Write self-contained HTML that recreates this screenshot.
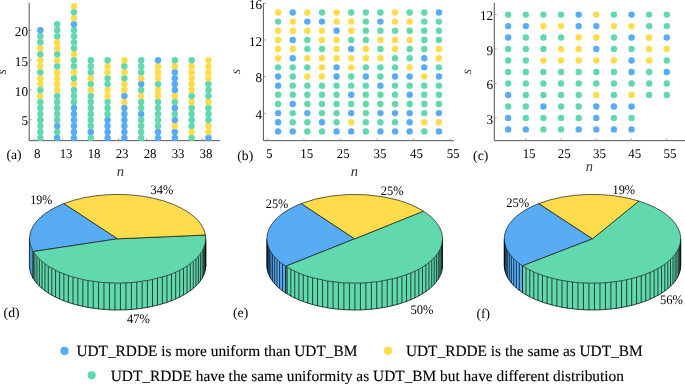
<!DOCTYPE html>
<html><head><meta charset="utf-8"><title>figure</title>
<style>html,body{margin:0;padding:0;background:#fff}svg{display:block}</style></head>
<body>
<svg width="685" height="384" viewBox="0 0 685 384" style="text-rendering:geometricPrecision">
<rect width="685" height="384" fill="#fff"/>
<path d="M29.2 2.9V140.65H219.9" fill="none" stroke="#4b4b4b" stroke-width="0.95"/>
<path d="M34.6 140.65v-2" stroke="#777" stroke-width="0.7"/>
<path d="M62.5 140.65v-2" stroke="#777" stroke-width="0.7"/>
<path d="M90.5 140.65v-2" stroke="#777" stroke-width="0.7"/>
<path d="M118.5 140.65v-2" stroke="#777" stroke-width="0.7"/>
<path d="M146.5 140.65v-2" stroke="#777" stroke-width="0.7"/>
<path d="M174.5 140.65v-2" stroke="#777" stroke-width="0.7"/>
<path d="M202.4 140.65v-2" stroke="#777" stroke-width="0.7"/>
<path d="M29.2 30.2h2.4" stroke="#777" stroke-width="0.7"/>
<path d="M29.2 60h2.4" stroke="#777" stroke-width="0.7"/>
<path d="M29.2 89.8h2.4" stroke="#777" stroke-width="0.7"/>
<path d="M29.2 119.7h2.4" stroke="#777" stroke-width="0.7"/>
<text x="37.3" y="158.0" font-size="13.4" text-anchor="middle" fill="#000" font-family="Liberation Serif, Times New Roman, serif" textLength="6.5" lengthAdjust="spacingAndGlyphs" >8</text>
<text x="66.1" y="158.0" font-size="13.4" text-anchor="middle" fill="#000" font-family="Liberation Serif, Times New Roman, serif" textLength="12.9" lengthAdjust="spacingAndGlyphs" >13</text>
<text x="94.1" y="158.0" font-size="13.4" text-anchor="middle" fill="#000" font-family="Liberation Serif, Times New Roman, serif" textLength="12.9" lengthAdjust="spacingAndGlyphs" >18</text>
<text x="122.1" y="158.0" font-size="13.4" text-anchor="middle" fill="#000" font-family="Liberation Serif, Times New Roman, serif" textLength="12.9" lengthAdjust="spacingAndGlyphs" >23</text>
<text x="150.1" y="158.0" font-size="13.4" text-anchor="middle" fill="#000" font-family="Liberation Serif, Times New Roman, serif" textLength="12.9" lengthAdjust="spacingAndGlyphs" >28</text>
<text x="178.1" y="158.0" font-size="13.4" text-anchor="middle" fill="#000" font-family="Liberation Serif, Times New Roman, serif" textLength="12.9" lengthAdjust="spacingAndGlyphs" >33</text>
<text x="206.0" y="158.0" font-size="13.4" text-anchor="middle" fill="#000" font-family="Liberation Serif, Times New Roman, serif" textLength="12.9" lengthAdjust="spacingAndGlyphs" >38</text>
<text x="28.0" y="35.9" font-size="13.4" text-anchor="end" fill="#000" font-family="Liberation Serif, Times New Roman, serif" textLength="13.2" lengthAdjust="spacingAndGlyphs" >20</text>
<text x="28.0" y="65.7" font-size="13.4" text-anchor="end" fill="#000" font-family="Liberation Serif, Times New Roman, serif" textLength="13.2" lengthAdjust="spacingAndGlyphs" >15</text>
<text x="28.0" y="95.5" font-size="13.4" text-anchor="end" fill="#000" font-family="Liberation Serif, Times New Roman, serif" textLength="13.2" lengthAdjust="spacingAndGlyphs" >10</text>
<text x="28.0" y="125.4" font-size="13.4" text-anchor="end" fill="#000" font-family="Liberation Serif, Times New Roman, serif" textLength="6.6" lengthAdjust="spacingAndGlyphs" >5</text>
<path d="M263.4 2.9V140.65H453.9" fill="none" stroke="#4b4b4b" stroke-width="0.95"/>
<path d="M267.3 140.65v-2" stroke="#777" stroke-width="0.7"/>
<path d="M303.9 140.65v-2" stroke="#777" stroke-width="0.7"/>
<path d="M340.4 140.65v-2" stroke="#777" stroke-width="0.7"/>
<path d="M377 140.65v-2" stroke="#777" stroke-width="0.7"/>
<path d="M413.5 140.65v-2" stroke="#777" stroke-width="0.7"/>
<path d="M450.2 140.65v-2" stroke="#777" stroke-width="0.7"/>
<path d="M263.4 3.3h2.4" stroke="#777" stroke-width="0.7"/>
<path d="M263.4 39.9h2.4" stroke="#777" stroke-width="0.7"/>
<path d="M263.4 76.5h2.4" stroke="#777" stroke-width="0.7"/>
<path d="M263.4 113.3h2.4" stroke="#777" stroke-width="0.7"/>
<text x="269.3" y="158.0" font-size="13.4" text-anchor="middle" fill="#000" font-family="Liberation Serif, Times New Roman, serif" textLength="6.5" lengthAdjust="spacingAndGlyphs" >5</text>
<text x="306.8" y="158.0" font-size="13.4" text-anchor="middle" fill="#000" font-family="Liberation Serif, Times New Roman, serif" textLength="12.9" lengthAdjust="spacingAndGlyphs" >15</text>
<text x="343.3" y="158.0" font-size="13.4" text-anchor="middle" fill="#000" font-family="Liberation Serif, Times New Roman, serif" textLength="12.9" lengthAdjust="spacingAndGlyphs" >25</text>
<text x="379.9" y="158.0" font-size="13.4" text-anchor="middle" fill="#000" font-family="Liberation Serif, Times New Roman, serif" textLength="12.9" lengthAdjust="spacingAndGlyphs" >35</text>
<text x="416.4" y="158.0" font-size="13.4" text-anchor="middle" fill="#000" font-family="Liberation Serif, Times New Roman, serif" textLength="12.9" lengthAdjust="spacingAndGlyphs" >45</text>
<text x="453.1" y="158.0" font-size="13.4" text-anchor="middle" fill="#000" font-family="Liberation Serif, Times New Roman, serif" textLength="12.9" lengthAdjust="spacingAndGlyphs" >55</text>
<text x="262.2" y="9.0" font-size="13.4" text-anchor="end" fill="#000" font-family="Liberation Serif, Times New Roman, serif" textLength="13.2" lengthAdjust="spacingAndGlyphs" >16</text>
<text x="262.2" y="45.6" font-size="13.4" text-anchor="end" fill="#000" font-family="Liberation Serif, Times New Roman, serif" textLength="13.2" lengthAdjust="spacingAndGlyphs" >12</text>
<text x="262.2" y="82.2" font-size="13.4" text-anchor="end" fill="#000" font-family="Liberation Serif, Times New Roman, serif" textLength="6.6" lengthAdjust="spacingAndGlyphs" >8</text>
<text x="262.2" y="119.0" font-size="13.4" text-anchor="end" fill="#000" font-family="Liberation Serif, Times New Roman, serif" textLength="6.6" lengthAdjust="spacingAndGlyphs" >4</text>
<path d="M494.3 2.9V140.65H685" fill="none" stroke="#4b4b4b" stroke-width="0.95"/>
<path d="M525.8 140.65v-2" stroke="#777" stroke-width="0.7"/>
<path d="M561 140.65v-2" stroke="#777" stroke-width="0.7"/>
<path d="M596.2 140.65v-2" stroke="#777" stroke-width="0.7"/>
<path d="M631.4 140.65v-2" stroke="#777" stroke-width="0.7"/>
<path d="M666.6 140.65v-2" stroke="#777" stroke-width="0.7"/>
<path d="M494.3 14.5h2.4" stroke="#777" stroke-width="0.7"/>
<path d="M494.3 48.9h2.4" stroke="#777" stroke-width="0.7"/>
<path d="M494.3 83.4h2.4" stroke="#777" stroke-width="0.7"/>
<path d="M494.3 117.8h2.4" stroke="#777" stroke-width="0.7"/>
<text x="529.1" y="158.0" font-size="13.4" text-anchor="middle" fill="#000" font-family="Liberation Serif, Times New Roman, serif" textLength="12.9" lengthAdjust="spacingAndGlyphs" >15</text>
<text x="564.3" y="158.0" font-size="13.4" text-anchor="middle" fill="#000" font-family="Liberation Serif, Times New Roman, serif" textLength="12.9" lengthAdjust="spacingAndGlyphs" >25</text>
<text x="599.5" y="158.0" font-size="13.4" text-anchor="middle" fill="#000" font-family="Liberation Serif, Times New Roman, serif" textLength="12.9" lengthAdjust="spacingAndGlyphs" >35</text>
<text x="634.7" y="158.0" font-size="13.4" text-anchor="middle" fill="#000" font-family="Liberation Serif, Times New Roman, serif" textLength="12.9" lengthAdjust="spacingAndGlyphs" >45</text>
<text x="669.9" y="158.0" font-size="13.4" text-anchor="middle" fill="#000" font-family="Liberation Serif, Times New Roman, serif" textLength="12.9" lengthAdjust="spacingAndGlyphs" >55</text>
<text x="493.1" y="20.2" font-size="13.4" text-anchor="end" fill="#000" font-family="Liberation Serif, Times New Roman, serif" textLength="13.2" lengthAdjust="spacingAndGlyphs" >12</text>
<text x="493.1" y="54.6" font-size="13.4" text-anchor="end" fill="#000" font-family="Liberation Serif, Times New Roman, serif" textLength="6.6" lengthAdjust="spacingAndGlyphs" >9</text>
<text x="493.1" y="89.1" font-size="13.4" text-anchor="end" fill="#000" font-family="Liberation Serif, Times New Roman, serif" textLength="6.6" lengthAdjust="spacingAndGlyphs" >6</text>
<text x="493.1" y="123.5" font-size="13.4" text-anchor="end" fill="#000" font-family="Liberation Serif, Times New Roman, serif" textLength="6.6" lengthAdjust="spacingAndGlyphs" >3</text>
<circle cx="40.35" cy="138.05" r="3.25" fill="#62D9AC"/>
<circle cx="40.35" cy="132.06" r="3.25" fill="#62D9AC"/>
<circle cx="40.35" cy="126.07" r="3.25" fill="#62D9AC"/>
<circle cx="40.35" cy="120.07" r="3.25" fill="#62D9AC"/>
<circle cx="40.35" cy="114.08" r="3.25" fill="#62D9AC"/>
<circle cx="40.35" cy="108.09" r="3.25" fill="#62D9AC"/>
<circle cx="40.35" cy="102.10" r="3.25" fill="#62D9AC"/>
<circle cx="40.35" cy="96.11" r="3.25" fill="#FFDC4B"/>
<circle cx="40.35" cy="90.11" r="3.25" fill="#62D9AC"/>
<circle cx="40.35" cy="84.12" r="3.25" fill="#FFDC4B"/>
<circle cx="40.35" cy="78.13" r="3.25" fill="#FFDC4B"/>
<circle cx="40.35" cy="72.14" r="3.25" fill="#62D9AC"/>
<circle cx="40.35" cy="66.15" r="3.25" fill="#FFDC4B"/>
<circle cx="40.35" cy="60.15" r="3.25" fill="#FFDC4B"/>
<circle cx="40.35" cy="54.16" r="3.25" fill="#62D9AC"/>
<circle cx="40.35" cy="48.17" r="3.25" fill="#FFDC4B"/>
<circle cx="40.35" cy="42.18" r="3.25" fill="#62D9AC"/>
<circle cx="40.35" cy="36.19" r="3.25" fill="#62D9AC"/>
<circle cx="40.35" cy="30.19" r="3.25" fill="#58ACF5"/>
<circle cx="57.16" cy="138.05" r="3.25" fill="#58ACF5"/>
<circle cx="57.16" cy="132.06" r="3.25" fill="#62D9AC"/>
<circle cx="57.16" cy="126.07" r="3.25" fill="#58ACF5"/>
<circle cx="57.16" cy="120.07" r="3.25" fill="#62D9AC"/>
<circle cx="57.16" cy="114.08" r="3.25" fill="#62D9AC"/>
<circle cx="57.16" cy="108.09" r="3.25" fill="#62D9AC"/>
<circle cx="57.16" cy="102.10" r="3.25" fill="#62D9AC"/>
<circle cx="57.16" cy="96.11" r="3.25" fill="#62D9AC"/>
<circle cx="57.16" cy="90.11" r="3.25" fill="#FFDC4B"/>
<circle cx="57.16" cy="84.12" r="3.25" fill="#FFDC4B"/>
<circle cx="57.16" cy="78.13" r="3.25" fill="#FFDC4B"/>
<circle cx="57.16" cy="72.14" r="3.25" fill="#FFDC4B"/>
<circle cx="57.16" cy="66.15" r="3.25" fill="#62D9AC"/>
<circle cx="57.16" cy="60.15" r="3.25" fill="#FFDC4B"/>
<circle cx="57.16" cy="54.16" r="3.25" fill="#62D9AC"/>
<circle cx="57.16" cy="48.17" r="3.25" fill="#FFDC4B"/>
<circle cx="57.16" cy="42.18" r="3.25" fill="#FFDC4B"/>
<circle cx="57.16" cy="36.19" r="3.25" fill="#62D9AC"/>
<circle cx="57.16" cy="30.19" r="3.25" fill="#62D9AC"/>
<circle cx="57.16" cy="24.20" r="3.25" fill="#62D9AC"/>
<circle cx="73.97" cy="138.05" r="3.25" fill="#58ACF5"/>
<circle cx="73.97" cy="132.06" r="3.25" fill="#58ACF5"/>
<circle cx="73.97" cy="126.07" r="3.25" fill="#58ACF5"/>
<circle cx="73.97" cy="120.07" r="3.25" fill="#58ACF5"/>
<circle cx="73.97" cy="114.08" r="3.25" fill="#58ACF5"/>
<circle cx="73.97" cy="108.09" r="3.25" fill="#58ACF5"/>
<circle cx="73.97" cy="102.10" r="3.25" fill="#62D9AC"/>
<circle cx="73.97" cy="96.11" r="3.25" fill="#62D9AC"/>
<circle cx="73.97" cy="90.11" r="3.25" fill="#62D9AC"/>
<circle cx="73.97" cy="84.12" r="3.25" fill="#FFDC4B"/>
<circle cx="73.97" cy="78.13" r="3.25" fill="#62D9AC"/>
<circle cx="73.97" cy="72.14" r="3.25" fill="#FFDC4B"/>
<circle cx="73.97" cy="66.15" r="3.25" fill="#62D9AC"/>
<circle cx="73.97" cy="60.15" r="3.25" fill="#62D9AC"/>
<circle cx="73.97" cy="54.16" r="3.25" fill="#FFDC4B"/>
<circle cx="73.97" cy="48.17" r="3.25" fill="#62D9AC"/>
<circle cx="73.97" cy="42.18" r="3.25" fill="#62D9AC"/>
<circle cx="73.97" cy="36.19" r="3.25" fill="#62D9AC"/>
<circle cx="73.97" cy="30.19" r="3.25" fill="#62D9AC"/>
<circle cx="73.97" cy="24.20" r="3.25" fill="#58ACF5"/>
<circle cx="73.97" cy="18.21" r="3.25" fill="#FFDC4B"/>
<circle cx="73.97" cy="12.22" r="3.25" fill="#62D9AC"/>
<circle cx="73.97" cy="6.23" r="3.25" fill="#FFDC4B"/>
<circle cx="90.78" cy="138.05" r="3.25" fill="#62D9AC"/>
<circle cx="90.78" cy="132.06" r="3.25" fill="#58ACF5"/>
<circle cx="90.78" cy="126.07" r="3.25" fill="#62D9AC"/>
<circle cx="90.78" cy="120.07" r="3.25" fill="#62D9AC"/>
<circle cx="90.78" cy="114.08" r="3.25" fill="#62D9AC"/>
<circle cx="90.78" cy="108.09" r="3.25" fill="#62D9AC"/>
<circle cx="90.78" cy="102.10" r="3.25" fill="#62D9AC"/>
<circle cx="90.78" cy="96.11" r="3.25" fill="#62D9AC"/>
<circle cx="90.78" cy="90.11" r="3.25" fill="#FFDC4B"/>
<circle cx="90.78" cy="84.12" r="3.25" fill="#62D9AC"/>
<circle cx="90.78" cy="78.13" r="3.25" fill="#FFDC4B"/>
<circle cx="90.78" cy="72.14" r="3.25" fill="#62D9AC"/>
<circle cx="90.78" cy="66.15" r="3.25" fill="#62D9AC"/>
<circle cx="90.78" cy="60.15" r="3.25" fill="#62D9AC"/>
<circle cx="107.59" cy="138.05" r="3.25" fill="#58ACF5"/>
<circle cx="107.59" cy="132.06" r="3.25" fill="#58ACF5"/>
<circle cx="107.59" cy="126.07" r="3.25" fill="#58ACF5"/>
<circle cx="107.59" cy="120.07" r="3.25" fill="#58ACF5"/>
<circle cx="107.59" cy="114.08" r="3.25" fill="#62D9AC"/>
<circle cx="107.59" cy="108.09" r="3.25" fill="#62D9AC"/>
<circle cx="107.59" cy="102.10" r="3.25" fill="#62D9AC"/>
<circle cx="107.59" cy="96.11" r="3.25" fill="#FFDC4B"/>
<circle cx="107.59" cy="90.11" r="3.25" fill="#FFDC4B"/>
<circle cx="107.59" cy="84.12" r="3.25" fill="#62D9AC"/>
<circle cx="107.59" cy="78.13" r="3.25" fill="#62D9AC"/>
<circle cx="107.59" cy="72.14" r="3.25" fill="#FFDC4B"/>
<circle cx="107.59" cy="66.15" r="3.25" fill="#FFDC4B"/>
<circle cx="107.59" cy="60.15" r="3.25" fill="#62D9AC"/>
<circle cx="124.40" cy="138.05" r="3.25" fill="#58ACF5"/>
<circle cx="124.40" cy="132.06" r="3.25" fill="#58ACF5"/>
<circle cx="124.40" cy="126.07" r="3.25" fill="#58ACF5"/>
<circle cx="124.40" cy="120.07" r="3.25" fill="#58ACF5"/>
<circle cx="124.40" cy="114.08" r="3.25" fill="#58ACF5"/>
<circle cx="124.40" cy="108.09" r="3.25" fill="#58ACF5"/>
<circle cx="124.40" cy="102.10" r="3.25" fill="#FFDC4B"/>
<circle cx="124.40" cy="96.11" r="3.25" fill="#58ACF5"/>
<circle cx="124.40" cy="90.11" r="3.25" fill="#FFDC4B"/>
<circle cx="124.40" cy="84.12" r="3.25" fill="#FFDC4B"/>
<circle cx="124.40" cy="78.13" r="3.25" fill="#62D9AC"/>
<circle cx="124.40" cy="72.14" r="3.25" fill="#FFDC4B"/>
<circle cx="124.40" cy="66.15" r="3.25" fill="#62D9AC"/>
<circle cx="124.40" cy="60.15" r="3.25" fill="#FFDC4B"/>
<circle cx="141.21" cy="138.05" r="3.25" fill="#62D9AC"/>
<circle cx="141.21" cy="132.06" r="3.25" fill="#62D9AC"/>
<circle cx="141.21" cy="126.07" r="3.25" fill="#62D9AC"/>
<circle cx="141.21" cy="120.07" r="3.25" fill="#62D9AC"/>
<circle cx="141.21" cy="114.08" r="3.25" fill="#58ACF5"/>
<circle cx="141.21" cy="108.09" r="3.25" fill="#62D9AC"/>
<circle cx="141.21" cy="102.10" r="3.25" fill="#62D9AC"/>
<circle cx="141.21" cy="96.11" r="3.25" fill="#FFDC4B"/>
<circle cx="141.21" cy="90.11" r="3.25" fill="#62D9AC"/>
<circle cx="141.21" cy="84.12" r="3.25" fill="#58ACF5"/>
<circle cx="141.21" cy="78.13" r="3.25" fill="#FFDC4B"/>
<circle cx="141.21" cy="72.14" r="3.25" fill="#62D9AC"/>
<circle cx="141.21" cy="66.15" r="3.25" fill="#62D9AC"/>
<circle cx="141.21" cy="60.15" r="3.25" fill="#62D9AC"/>
<circle cx="158.02" cy="138.05" r="3.25" fill="#58ACF5"/>
<circle cx="158.02" cy="132.06" r="3.25" fill="#58ACF5"/>
<circle cx="158.02" cy="126.07" r="3.25" fill="#62D9AC"/>
<circle cx="158.02" cy="120.07" r="3.25" fill="#62D9AC"/>
<circle cx="158.02" cy="114.08" r="3.25" fill="#62D9AC"/>
<circle cx="158.02" cy="108.09" r="3.25" fill="#62D9AC"/>
<circle cx="158.02" cy="102.10" r="3.25" fill="#62D9AC"/>
<circle cx="158.02" cy="96.11" r="3.25" fill="#FFDC4B"/>
<circle cx="158.02" cy="90.11" r="3.25" fill="#FFDC4B"/>
<circle cx="158.02" cy="84.12" r="3.25" fill="#62D9AC"/>
<circle cx="158.02" cy="78.13" r="3.25" fill="#FFDC4B"/>
<circle cx="158.02" cy="72.14" r="3.25" fill="#FFDC4B"/>
<circle cx="158.02" cy="66.15" r="3.25" fill="#FFDC4B"/>
<circle cx="158.02" cy="60.15" r="3.25" fill="#58ACF5"/>
<circle cx="174.83" cy="138.05" r="3.25" fill="#58ACF5"/>
<circle cx="174.83" cy="132.06" r="3.25" fill="#58ACF5"/>
<circle cx="174.83" cy="126.07" r="3.25" fill="#FFDC4B"/>
<circle cx="174.83" cy="120.07" r="3.25" fill="#58ACF5"/>
<circle cx="174.83" cy="114.08" r="3.25" fill="#62D9AC"/>
<circle cx="174.83" cy="108.09" r="3.25" fill="#58ACF5"/>
<circle cx="174.83" cy="102.10" r="3.25" fill="#62D9AC"/>
<circle cx="174.83" cy="96.11" r="3.25" fill="#FFDC4B"/>
<circle cx="174.83" cy="90.11" r="3.25" fill="#58ACF5"/>
<circle cx="174.83" cy="84.12" r="3.25" fill="#58ACF5"/>
<circle cx="174.83" cy="78.13" r="3.25" fill="#58ACF5"/>
<circle cx="174.83" cy="72.14" r="3.25" fill="#58ACF5"/>
<circle cx="174.83" cy="66.15" r="3.25" fill="#FFDC4B"/>
<circle cx="174.83" cy="60.15" r="3.25" fill="#62D9AC"/>
<circle cx="191.64" cy="138.05" r="3.25" fill="#62D9AC"/>
<circle cx="191.64" cy="132.06" r="3.25" fill="#FFDC4B"/>
<circle cx="191.64" cy="126.07" r="3.25" fill="#62D9AC"/>
<circle cx="191.64" cy="120.07" r="3.25" fill="#62D9AC"/>
<circle cx="191.64" cy="114.08" r="3.25" fill="#62D9AC"/>
<circle cx="191.64" cy="108.09" r="3.25" fill="#62D9AC"/>
<circle cx="191.64" cy="102.10" r="3.25" fill="#FFDC4B"/>
<circle cx="191.64" cy="96.11" r="3.25" fill="#62D9AC"/>
<circle cx="191.64" cy="90.11" r="3.25" fill="#FFDC4B"/>
<circle cx="191.64" cy="84.12" r="3.25" fill="#FFDC4B"/>
<circle cx="191.64" cy="78.13" r="3.25" fill="#FFDC4B"/>
<circle cx="191.64" cy="72.14" r="3.25" fill="#FFDC4B"/>
<circle cx="191.64" cy="66.15" r="3.25" fill="#FFDC4B"/>
<circle cx="191.64" cy="60.15" r="3.25" fill="#62D9AC"/>
<circle cx="208.45" cy="138.05" r="3.25" fill="#58ACF5"/>
<circle cx="208.45" cy="132.06" r="3.25" fill="#FFDC4B"/>
<circle cx="208.45" cy="126.07" r="3.25" fill="#FFDC4B"/>
<circle cx="208.45" cy="120.07" r="3.25" fill="#62D9AC"/>
<circle cx="208.45" cy="114.08" r="3.25" fill="#62D9AC"/>
<circle cx="208.45" cy="108.09" r="3.25" fill="#62D9AC"/>
<circle cx="208.45" cy="102.10" r="3.25" fill="#FFDC4B"/>
<circle cx="208.45" cy="96.11" r="3.25" fill="#62D9AC"/>
<circle cx="208.45" cy="90.11" r="3.25" fill="#62D9AC"/>
<circle cx="208.45" cy="84.12" r="3.25" fill="#62D9AC"/>
<circle cx="208.45" cy="78.13" r="3.25" fill="#FFDC4B"/>
<circle cx="208.45" cy="72.14" r="3.25" fill="#FFDC4B"/>
<circle cx="208.45" cy="66.15" r="3.25" fill="#FFDC4B"/>
<circle cx="208.45" cy="60.15" r="3.25" fill="#FFDC4B"/>
<circle cx="278.10" cy="131.40" r="3.2" fill="#58ACF5"/>
<circle cx="278.10" cy="122.25" r="3.2" fill="#58ACF5"/>
<circle cx="278.10" cy="113.10" r="3.2" fill="#58ACF5"/>
<circle cx="278.10" cy="103.95" r="3.2" fill="#62D9AC"/>
<circle cx="278.10" cy="94.80" r="3.2" fill="#62D9AC"/>
<circle cx="278.10" cy="85.65" r="3.2" fill="#58ACF5"/>
<circle cx="278.10" cy="76.50" r="3.2" fill="#58ACF5"/>
<circle cx="278.10" cy="67.35" r="3.2" fill="#62D9AC"/>
<circle cx="278.10" cy="58.20" r="3.2" fill="#FFDC4B"/>
<circle cx="278.10" cy="49.05" r="3.2" fill="#FFDC4B"/>
<circle cx="278.10" cy="39.90" r="3.2" fill="#FFDC4B"/>
<circle cx="278.10" cy="30.75" r="3.2" fill="#FFDC4B"/>
<circle cx="278.10" cy="21.60" r="3.2" fill="#62D9AC"/>
<circle cx="278.10" cy="12.45" r="3.2" fill="#FFDC4B"/>
<circle cx="292.72" cy="131.40" r="3.2" fill="#58ACF5"/>
<circle cx="292.72" cy="122.25" r="3.2" fill="#62D9AC"/>
<circle cx="292.72" cy="113.10" r="3.2" fill="#62D9AC"/>
<circle cx="292.72" cy="103.95" r="3.2" fill="#58ACF5"/>
<circle cx="292.72" cy="94.80" r="3.2" fill="#62D9AC"/>
<circle cx="292.72" cy="85.65" r="3.2" fill="#62D9AC"/>
<circle cx="292.72" cy="76.50" r="3.2" fill="#62D9AC"/>
<circle cx="292.72" cy="67.35" r="3.2" fill="#62D9AC"/>
<circle cx="292.72" cy="58.20" r="3.2" fill="#58ACF5"/>
<circle cx="292.72" cy="49.05" r="3.2" fill="#FFDC4B"/>
<circle cx="292.72" cy="39.90" r="3.2" fill="#58ACF5"/>
<circle cx="292.72" cy="30.75" r="3.2" fill="#FFDC4B"/>
<circle cx="292.72" cy="21.60" r="3.2" fill="#FFDC4B"/>
<circle cx="292.72" cy="12.45" r="3.2" fill="#58ACF5"/>
<circle cx="307.34" cy="131.40" r="3.2" fill="#62D9AC"/>
<circle cx="307.34" cy="122.25" r="3.2" fill="#62D9AC"/>
<circle cx="307.34" cy="113.10" r="3.2" fill="#58ACF5"/>
<circle cx="307.34" cy="103.95" r="3.2" fill="#62D9AC"/>
<circle cx="307.34" cy="94.80" r="3.2" fill="#62D9AC"/>
<circle cx="307.34" cy="85.65" r="3.2" fill="#62D9AC"/>
<circle cx="307.34" cy="76.50" r="3.2" fill="#FFDC4B"/>
<circle cx="307.34" cy="67.35" r="3.2" fill="#62D9AC"/>
<circle cx="307.34" cy="58.20" r="3.2" fill="#FFDC4B"/>
<circle cx="307.34" cy="49.05" r="3.2" fill="#62D9AC"/>
<circle cx="307.34" cy="39.90" r="3.2" fill="#62D9AC"/>
<circle cx="307.34" cy="30.75" r="3.2" fill="#FFDC4B"/>
<circle cx="307.34" cy="21.60" r="3.2" fill="#58ACF5"/>
<circle cx="307.34" cy="12.45" r="3.2" fill="#FFDC4B"/>
<circle cx="321.96" cy="131.40" r="3.2" fill="#62D9AC"/>
<circle cx="321.96" cy="122.25" r="3.2" fill="#58ACF5"/>
<circle cx="321.96" cy="113.10" r="3.2" fill="#62D9AC"/>
<circle cx="321.96" cy="103.95" r="3.2" fill="#62D9AC"/>
<circle cx="321.96" cy="94.80" r="3.2" fill="#62D9AC"/>
<circle cx="321.96" cy="85.65" r="3.2" fill="#62D9AC"/>
<circle cx="321.96" cy="76.50" r="3.2" fill="#FFDC4B"/>
<circle cx="321.96" cy="67.35" r="3.2" fill="#FFDC4B"/>
<circle cx="321.96" cy="58.20" r="3.2" fill="#FFDC4B"/>
<circle cx="321.96" cy="49.05" r="3.2" fill="#62D9AC"/>
<circle cx="321.96" cy="39.90" r="3.2" fill="#FFDC4B"/>
<circle cx="321.96" cy="30.75" r="3.2" fill="#FFDC4B"/>
<circle cx="321.96" cy="21.60" r="3.2" fill="#58ACF5"/>
<circle cx="321.96" cy="12.45" r="3.2" fill="#62D9AC"/>
<circle cx="336.58" cy="131.40" r="3.2" fill="#58ACF5"/>
<circle cx="336.58" cy="122.25" r="3.2" fill="#62D9AC"/>
<circle cx="336.58" cy="113.10" r="3.2" fill="#62D9AC"/>
<circle cx="336.58" cy="103.95" r="3.2" fill="#62D9AC"/>
<circle cx="336.58" cy="94.80" r="3.2" fill="#62D9AC"/>
<circle cx="336.58" cy="85.65" r="3.2" fill="#62D9AC"/>
<circle cx="336.58" cy="76.50" r="3.2" fill="#58ACF5"/>
<circle cx="336.58" cy="67.35" r="3.2" fill="#58ACF5"/>
<circle cx="336.58" cy="58.20" r="3.2" fill="#FFDC4B"/>
<circle cx="336.58" cy="49.05" r="3.2" fill="#FFDC4B"/>
<circle cx="336.58" cy="39.90" r="3.2" fill="#FFDC4B"/>
<circle cx="336.58" cy="30.75" r="3.2" fill="#58ACF5"/>
<circle cx="336.58" cy="21.60" r="3.2" fill="#FFDC4B"/>
<circle cx="336.58" cy="12.45" r="3.2" fill="#FFDC4B"/>
<circle cx="351.20" cy="131.40" r="3.2" fill="#58ACF5"/>
<circle cx="351.20" cy="122.25" r="3.2" fill="#FFDC4B"/>
<circle cx="351.20" cy="113.10" r="3.2" fill="#58ACF5"/>
<circle cx="351.20" cy="103.95" r="3.2" fill="#62D9AC"/>
<circle cx="351.20" cy="94.80" r="3.2" fill="#58ACF5"/>
<circle cx="351.20" cy="85.65" r="3.2" fill="#62D9AC"/>
<circle cx="351.20" cy="76.50" r="3.2" fill="#62D9AC"/>
<circle cx="351.20" cy="67.35" r="3.2" fill="#FFDC4B"/>
<circle cx="351.20" cy="58.20" r="3.2" fill="#FFDC4B"/>
<circle cx="351.20" cy="49.05" r="3.2" fill="#58ACF5"/>
<circle cx="351.20" cy="39.90" r="3.2" fill="#62D9AC"/>
<circle cx="351.20" cy="30.75" r="3.2" fill="#FFDC4B"/>
<circle cx="351.20" cy="21.60" r="3.2" fill="#FFDC4B"/>
<circle cx="351.20" cy="12.45" r="3.2" fill="#62D9AC"/>
<circle cx="365.82" cy="131.40" r="3.2" fill="#62D9AC"/>
<circle cx="365.82" cy="122.25" r="3.2" fill="#62D9AC"/>
<circle cx="365.82" cy="113.10" r="3.2" fill="#62D9AC"/>
<circle cx="365.82" cy="103.95" r="3.2" fill="#62D9AC"/>
<circle cx="365.82" cy="94.80" r="3.2" fill="#62D9AC"/>
<circle cx="365.82" cy="85.65" r="3.2" fill="#62D9AC"/>
<circle cx="365.82" cy="76.50" r="3.2" fill="#58ACF5"/>
<circle cx="365.82" cy="67.35" r="3.2" fill="#62D9AC"/>
<circle cx="365.82" cy="58.20" r="3.2" fill="#FFDC4B"/>
<circle cx="365.82" cy="49.05" r="3.2" fill="#FFDC4B"/>
<circle cx="365.82" cy="39.90" r="3.2" fill="#62D9AC"/>
<circle cx="365.82" cy="30.75" r="3.2" fill="#62D9AC"/>
<circle cx="365.82" cy="21.60" r="3.2" fill="#62D9AC"/>
<circle cx="365.82" cy="12.45" r="3.2" fill="#62D9AC"/>
<circle cx="380.44" cy="131.40" r="3.2" fill="#58ACF5"/>
<circle cx="380.44" cy="122.25" r="3.2" fill="#62D9AC"/>
<circle cx="380.44" cy="113.10" r="3.2" fill="#58ACF5"/>
<circle cx="380.44" cy="103.95" r="3.2" fill="#62D9AC"/>
<circle cx="380.44" cy="94.80" r="3.2" fill="#62D9AC"/>
<circle cx="380.44" cy="85.65" r="3.2" fill="#58ACF5"/>
<circle cx="380.44" cy="76.50" r="3.2" fill="#62D9AC"/>
<circle cx="380.44" cy="67.35" r="3.2" fill="#62D9AC"/>
<circle cx="380.44" cy="58.20" r="3.2" fill="#FFDC4B"/>
<circle cx="380.44" cy="49.05" r="3.2" fill="#62D9AC"/>
<circle cx="380.44" cy="39.90" r="3.2" fill="#FFDC4B"/>
<circle cx="380.44" cy="30.75" r="3.2" fill="#62D9AC"/>
<circle cx="380.44" cy="21.60" r="3.2" fill="#58ACF5"/>
<circle cx="380.44" cy="12.45" r="3.2" fill="#62D9AC"/>
<circle cx="395.06" cy="131.40" r="3.2" fill="#58ACF5"/>
<circle cx="395.06" cy="122.25" r="3.2" fill="#62D9AC"/>
<circle cx="395.06" cy="113.10" r="3.2" fill="#58ACF5"/>
<circle cx="395.06" cy="103.95" r="3.2" fill="#62D9AC"/>
<circle cx="395.06" cy="94.80" r="3.2" fill="#62D9AC"/>
<circle cx="395.06" cy="85.65" r="3.2" fill="#62D9AC"/>
<circle cx="395.06" cy="76.50" r="3.2" fill="#58ACF5"/>
<circle cx="395.06" cy="67.35" r="3.2" fill="#62D9AC"/>
<circle cx="395.06" cy="58.20" r="3.2" fill="#62D9AC"/>
<circle cx="395.06" cy="49.05" r="3.2" fill="#FFDC4B"/>
<circle cx="395.06" cy="39.90" r="3.2" fill="#FFDC4B"/>
<circle cx="395.06" cy="30.75" r="3.2" fill="#62D9AC"/>
<circle cx="395.06" cy="21.60" r="3.2" fill="#FFDC4B"/>
<circle cx="395.06" cy="12.45" r="3.2" fill="#FFDC4B"/>
<circle cx="409.68" cy="131.40" r="3.2" fill="#58ACF5"/>
<circle cx="409.68" cy="122.25" r="3.2" fill="#58ACF5"/>
<circle cx="409.68" cy="113.10" r="3.2" fill="#58ACF5"/>
<circle cx="409.68" cy="103.95" r="3.2" fill="#62D9AC"/>
<circle cx="409.68" cy="94.80" r="3.2" fill="#58ACF5"/>
<circle cx="409.68" cy="85.65" r="3.2" fill="#62D9AC"/>
<circle cx="409.68" cy="76.50" r="3.2" fill="#58ACF5"/>
<circle cx="409.68" cy="67.35" r="3.2" fill="#FFDC4B"/>
<circle cx="409.68" cy="58.20" r="3.2" fill="#62D9AC"/>
<circle cx="409.68" cy="49.05" r="3.2" fill="#62D9AC"/>
<circle cx="409.68" cy="39.90" r="3.2" fill="#FFDC4B"/>
<circle cx="409.68" cy="30.75" r="3.2" fill="#62D9AC"/>
<circle cx="409.68" cy="21.60" r="3.2" fill="#FFDC4B"/>
<circle cx="409.68" cy="12.45" r="3.2" fill="#62D9AC"/>
<circle cx="424.30" cy="131.40" r="3.2" fill="#62D9AC"/>
<circle cx="424.30" cy="122.25" r="3.2" fill="#FFDC4B"/>
<circle cx="424.30" cy="113.10" r="3.2" fill="#62D9AC"/>
<circle cx="424.30" cy="103.95" r="3.2" fill="#62D9AC"/>
<circle cx="424.30" cy="94.80" r="3.2" fill="#62D9AC"/>
<circle cx="424.30" cy="85.65" r="3.2" fill="#62D9AC"/>
<circle cx="424.30" cy="76.50" r="3.2" fill="#FFDC4B"/>
<circle cx="424.30" cy="67.35" r="3.2" fill="#58ACF5"/>
<circle cx="424.30" cy="58.20" r="3.2" fill="#58ACF5"/>
<circle cx="424.30" cy="49.05" r="3.2" fill="#62D9AC"/>
<circle cx="424.30" cy="39.90" r="3.2" fill="#62D9AC"/>
<circle cx="424.30" cy="30.75" r="3.2" fill="#62D9AC"/>
<circle cx="424.30" cy="21.60" r="3.2" fill="#62D9AC"/>
<circle cx="424.30" cy="12.45" r="3.2" fill="#62D9AC"/>
<circle cx="438.92" cy="131.40" r="3.2" fill="#58ACF5"/>
<circle cx="438.92" cy="122.25" r="3.2" fill="#FFDC4B"/>
<circle cx="438.92" cy="113.10" r="3.2" fill="#58ACF5"/>
<circle cx="438.92" cy="103.95" r="3.2" fill="#62D9AC"/>
<circle cx="438.92" cy="94.80" r="3.2" fill="#62D9AC"/>
<circle cx="438.92" cy="85.65" r="3.2" fill="#62D9AC"/>
<circle cx="438.92" cy="76.50" r="3.2" fill="#58ACF5"/>
<circle cx="438.92" cy="67.35" r="3.2" fill="#62D9AC"/>
<circle cx="438.92" cy="58.20" r="3.2" fill="#FFDC4B"/>
<circle cx="438.92" cy="49.05" r="3.2" fill="#FFDC4B"/>
<circle cx="438.92" cy="39.90" r="3.2" fill="#62D9AC"/>
<circle cx="438.92" cy="30.75" r="3.2" fill="#62D9AC"/>
<circle cx="438.92" cy="21.60" r="3.2" fill="#62D9AC"/>
<circle cx="438.92" cy="12.45" r="3.2" fill="#58ACF5"/>
<circle cx="508.20" cy="129.40" r="3.2" fill="#58ACF5"/>
<circle cx="508.20" cy="117.92" r="3.2" fill="#58ACF5"/>
<circle cx="508.20" cy="106.44" r="3.2" fill="#62D9AC"/>
<circle cx="508.20" cy="94.96" r="3.2" fill="#58ACF5"/>
<circle cx="508.20" cy="83.48" r="3.2" fill="#62D9AC"/>
<circle cx="508.20" cy="72.00" r="3.2" fill="#62D9AC"/>
<circle cx="508.20" cy="60.52" r="3.2" fill="#62D9AC"/>
<circle cx="508.20" cy="49.04" r="3.2" fill="#62D9AC"/>
<circle cx="508.20" cy="37.56" r="3.2" fill="#58ACF5"/>
<circle cx="508.20" cy="26.08" r="3.2" fill="#58ACF5"/>
<circle cx="508.20" cy="14.60" r="3.2" fill="#62D9AC"/>
<circle cx="525.82" cy="129.40" r="3.2" fill="#58ACF5"/>
<circle cx="525.82" cy="117.92" r="3.2" fill="#62D9AC"/>
<circle cx="525.82" cy="106.44" r="3.2" fill="#62D9AC"/>
<circle cx="525.82" cy="94.96" r="3.2" fill="#62D9AC"/>
<circle cx="525.82" cy="83.48" r="3.2" fill="#62D9AC"/>
<circle cx="525.82" cy="72.00" r="3.2" fill="#62D9AC"/>
<circle cx="525.82" cy="60.52" r="3.2" fill="#62D9AC"/>
<circle cx="525.82" cy="49.04" r="3.2" fill="#62D9AC"/>
<circle cx="525.82" cy="37.56" r="3.2" fill="#62D9AC"/>
<circle cx="525.82" cy="26.08" r="3.2" fill="#58ACF5"/>
<circle cx="525.82" cy="14.60" r="3.2" fill="#62D9AC"/>
<circle cx="543.44" cy="129.40" r="3.2" fill="#62D9AC"/>
<circle cx="543.44" cy="117.92" r="3.2" fill="#62D9AC"/>
<circle cx="543.44" cy="106.44" r="3.2" fill="#58ACF5"/>
<circle cx="543.44" cy="94.96" r="3.2" fill="#62D9AC"/>
<circle cx="543.44" cy="83.48" r="3.2" fill="#62D9AC"/>
<circle cx="543.44" cy="72.00" r="3.2" fill="#62D9AC"/>
<circle cx="543.44" cy="60.52" r="3.2" fill="#FFDC4B"/>
<circle cx="543.44" cy="49.04" r="3.2" fill="#62D9AC"/>
<circle cx="543.44" cy="37.56" r="3.2" fill="#62D9AC"/>
<circle cx="543.44" cy="26.08" r="3.2" fill="#FFDC4B"/>
<circle cx="543.44" cy="14.60" r="3.2" fill="#62D9AC"/>
<circle cx="561.06" cy="129.40" r="3.2" fill="#62D9AC"/>
<circle cx="561.06" cy="117.92" r="3.2" fill="#62D9AC"/>
<circle cx="561.06" cy="106.44" r="3.2" fill="#62D9AC"/>
<circle cx="561.06" cy="94.96" r="3.2" fill="#62D9AC"/>
<circle cx="561.06" cy="83.48" r="3.2" fill="#62D9AC"/>
<circle cx="561.06" cy="72.00" r="3.2" fill="#62D9AC"/>
<circle cx="561.06" cy="60.52" r="3.2" fill="#FFDC4B"/>
<circle cx="561.06" cy="49.04" r="3.2" fill="#FFDC4B"/>
<circle cx="561.06" cy="37.56" r="3.2" fill="#62D9AC"/>
<circle cx="561.06" cy="26.08" r="3.2" fill="#FFDC4B"/>
<circle cx="561.06" cy="14.60" r="3.2" fill="#62D9AC"/>
<circle cx="578.68" cy="129.40" r="3.2" fill="#58ACF5"/>
<circle cx="578.68" cy="117.92" r="3.2" fill="#62D9AC"/>
<circle cx="578.68" cy="106.44" r="3.2" fill="#62D9AC"/>
<circle cx="578.68" cy="94.96" r="3.2" fill="#62D9AC"/>
<circle cx="578.68" cy="83.48" r="3.2" fill="#62D9AC"/>
<circle cx="578.68" cy="72.00" r="3.2" fill="#62D9AC"/>
<circle cx="578.68" cy="60.52" r="3.2" fill="#FFDC4B"/>
<circle cx="578.68" cy="49.04" r="3.2" fill="#FFDC4B"/>
<circle cx="578.68" cy="37.56" r="3.2" fill="#FFDC4B"/>
<circle cx="578.68" cy="26.08" r="3.2" fill="#58ACF5"/>
<circle cx="578.68" cy="14.60" r="3.2" fill="#58ACF5"/>
<circle cx="596.30" cy="129.40" r="3.2" fill="#58ACF5"/>
<circle cx="596.30" cy="117.92" r="3.2" fill="#58ACF5"/>
<circle cx="596.30" cy="106.44" r="3.2" fill="#58ACF5"/>
<circle cx="596.30" cy="94.96" r="3.2" fill="#FFDC4B"/>
<circle cx="596.30" cy="83.48" r="3.2" fill="#62D9AC"/>
<circle cx="596.30" cy="72.00" r="3.2" fill="#62D9AC"/>
<circle cx="596.30" cy="60.52" r="3.2" fill="#FFDC4B"/>
<circle cx="596.30" cy="49.04" r="3.2" fill="#58ACF5"/>
<circle cx="596.30" cy="37.56" r="3.2" fill="#FFDC4B"/>
<circle cx="596.30" cy="26.08" r="3.2" fill="#58ACF5"/>
<circle cx="596.30" cy="14.60" r="3.2" fill="#FFDC4B"/>
<circle cx="613.92" cy="129.40" r="3.2" fill="#58ACF5"/>
<circle cx="613.92" cy="117.92" r="3.2" fill="#62D9AC"/>
<circle cx="613.92" cy="106.44" r="3.2" fill="#58ACF5"/>
<circle cx="613.92" cy="94.96" r="3.2" fill="#62D9AC"/>
<circle cx="613.92" cy="83.48" r="3.2" fill="#62D9AC"/>
<circle cx="613.92" cy="72.00" r="3.2" fill="#62D9AC"/>
<circle cx="613.92" cy="60.52" r="3.2" fill="#FFDC4B"/>
<circle cx="613.92" cy="49.04" r="3.2" fill="#62D9AC"/>
<circle cx="613.92" cy="37.56" r="3.2" fill="#62D9AC"/>
<circle cx="613.92" cy="26.08" r="3.2" fill="#FFDC4B"/>
<circle cx="613.92" cy="14.60" r="3.2" fill="#62D9AC"/>
<circle cx="631.54" cy="129.40" r="3.2" fill="#58ACF5"/>
<circle cx="631.54" cy="117.92" r="3.2" fill="#62D9AC"/>
<circle cx="631.54" cy="106.44" r="3.2" fill="#58ACF5"/>
<circle cx="631.54" cy="94.96" r="3.2" fill="#FFDC4B"/>
<circle cx="631.54" cy="83.48" r="3.2" fill="#62D9AC"/>
<circle cx="631.54" cy="72.00" r="3.2" fill="#58ACF5"/>
<circle cx="631.54" cy="60.52" r="3.2" fill="#58ACF5"/>
<circle cx="631.54" cy="49.04" r="3.2" fill="#62D9AC"/>
<circle cx="631.54" cy="37.56" r="3.2" fill="#58ACF5"/>
<circle cx="631.54" cy="26.08" r="3.2" fill="#FFDC4B"/>
<circle cx="631.54" cy="14.60" r="3.2" fill="#58ACF5"/>
<circle cx="649.16" cy="14.60" r="3.2" fill="#62D9AC"/>
<circle cx="649.16" cy="26.08" r="3.2" fill="#62D9AC"/>
<circle cx="649.16" cy="37.56" r="3.2" fill="#FFDC4B"/>
<circle cx="649.16" cy="49.04" r="3.2" fill="#FFDC4B"/>
<circle cx="649.16" cy="60.52" r="3.2" fill="#FFDC4B"/>
<circle cx="649.16" cy="72.00" r="3.2" fill="#62D9AC"/>
<circle cx="649.16" cy="83.48" r="3.2" fill="#62D9AC"/>
<circle cx="649.16" cy="94.96" r="3.2" fill="#62D9AC"/>
<circle cx="666.78" cy="14.60" r="3.2" fill="#62D9AC"/>
<circle cx="666.78" cy="26.08" r="3.2" fill="#62D9AC"/>
<circle cx="666.78" cy="37.56" r="3.2" fill="#58ACF5"/>
<circle cx="666.78" cy="49.04" r="3.2" fill="#FFDC4B"/>
<circle cx="666.78" cy="60.52" r="3.2" fill="#62D9AC"/>
<circle cx="666.78" cy="72.00" r="3.2" fill="#58ACF5"/>
<circle cx="666.78" cy="83.48" r="3.2" fill="#62D9AC"/>
<circle cx="666.78" cy="94.96" r="3.2" fill="#62D9AC"/>
<text x="120.4" y="175.6" font-size="14.5" text-anchor="middle" fill="#333" font-family="Liberation Serif, Times New Roman, serif" font-style="italic">n</text>
<text x="354.4" y="175.6" font-size="14.5" text-anchor="middle" fill="#333" font-family="Liberation Serif, Times New Roman, serif" font-style="italic">n</text>
<text x="589.4" y="171.2" font-size="14.5" text-anchor="middle" fill="#333" font-family="Liberation Serif, Times New Roman, serif" font-style="italic">n</text>
<text transform="translate(5.6 71.8) rotate(-90)" font-size="13.5" text-anchor="middle" fill="#333" font-style="italic" font-family="Liberation Serif, Times New Roman, serif">s</text>
<text transform="translate(239.9 71.5) rotate(-90)" font-size="13.5" text-anchor="middle" fill="#333" font-style="italic" font-family="Liberation Serif, Times New Roman, serif">s</text>
<text transform="translate(470.5 71.5) rotate(-90)" font-size="13.5" text-anchor="middle" fill="#333" font-style="italic" font-family="Liberation Serif, Times New Roman, serif">s</text>
<text x="6.4" y="159" font-size="13.6" text-anchor="start" fill="#000" font-family="Liberation Serif, Times New Roman, serif" textLength="15.1" lengthAdjust="spacingAndGlyphs" >(a)</text>
<text x="237.3" y="159.6" font-size="13.6" text-anchor="start" fill="#000" font-family="Liberation Serif, Times New Roman, serif" textLength="15.9" lengthAdjust="spacingAndGlyphs" >(b)</text>
<text x="473.1" y="160" font-size="13.6" text-anchor="start" fill="#000" font-family="Liberation Serif, Times New Roman, serif" textLength="15.2" lengthAdjust="spacingAndGlyphs" >(c)</text>
<text x="3.6" y="317" font-size="13.6" text-anchor="start" fill="#000" font-family="Liberation Serif, Times New Roman, serif" textLength="16" lengthAdjust="spacingAndGlyphs" >(d)</text>
<text x="233.0" y="317" font-size="13.6" text-anchor="start" fill="#000" font-family="Liberation Serif, Times New Roman, serif" textLength="15.2" lengthAdjust="spacingAndGlyphs" >(e)</text>
<text x="476.6" y="318" font-size="13.6" text-anchor="start" fill="#000" font-family="Liberation Serif, Times New Roman, serif" textLength="13.5" lengthAdjust="spacingAndGlyphs" >(f)</text>
<path d="M29.40 238.80 L29.41 239.56 L29.45 240.32 L29.52 241.08 L29.61 241.84 L29.72 242.60 L29.87 243.36 L30.03 244.11 L30.23 244.87 L30.45 245.62 L30.69 246.37 L30.96 247.12 L31.26 247.87 L31.58 248.61 L31.93 249.35 L32.30 250.09 L32.69 250.82 L33.12 251.55 L33.12 278.35 L32.69 277.62 L32.30 276.89 L31.93 276.15 L31.58 275.41 L31.26 274.67 L30.96 273.92 L30.69 273.17 L30.45 272.42 L30.23 271.67 L30.03 270.91 L29.87 270.16 L29.72 269.40 L29.61 268.64 L29.52 267.88 L29.45 267.12 L29.41 266.36 L29.40 265.60Z" fill="#58ACF5" stroke="#58ACF5" stroke-width="0.3"/>
<path d="M33.12 251.55 L33.57 252.29 L34.05 253.02 L34.55 253.75 L35.08 254.48 L35.63 255.20 L36.21 255.91 L36.82 256.62 L37.44 257.32 L38.09 258.02 L38.77 258.72 L39.47 259.40 L40.19 260.08 L40.94 260.76 L41.71 261.42 L42.50 262.08 L43.32 262.74 L44.15 263.38 L45.01 264.02 L45.90 264.65 L46.80 265.28 L47.72 265.89 L48.67 266.50 L49.64 267.10 L50.62 267.69 L51.63 268.27 L52.66 268.84 L53.70 269.41 L54.77 269.96 L55.86 270.51 L56.96 271.04 L58.08 271.57 L59.22 272.08 L60.38 272.59 L61.56 273.08 L62.75 273.57 L63.96 274.04 L65.18 274.51 L66.42 274.96 L67.68 275.40 L68.95 275.83 L70.23 276.25 L71.54 276.66 L72.85 277.06 L74.18 277.45 L75.52 277.82 L76.87 278.18 L78.24 278.53 L79.61 278.87 L81.00 279.20 L82.40 279.51 L83.81 279.81 L85.24 280.10 L86.67 280.38 L88.11 280.64 L89.56 280.90 L91.01 281.13 L92.48 281.36 L93.95 281.57 L95.43 281.77 L96.92 281.96 L98.41 282.14 L99.91 282.30 L101.42 282.45 L102.92 282.58 L104.44 282.70 L105.96 282.81 L107.48 282.91 L109.00 282.99 L110.53 283.06 L112.06 283.11 L113.59 283.15 L115.12 283.18 L116.65 283.20 L118.18 283.20 L119.72 283.19 L121.25 283.16 L122.78 283.12 L124.31 283.07 L125.84 283.01 L127.36 282.93 L128.88 282.84 L130.40 282.73 L131.92 282.61 L133.43 282.48 L134.93 282.33 L136.43 282.18 L137.93 282.00 L139.42 281.82 L140.90 281.62 L142.37 281.41 L143.84 281.19 L145.30 280.95 L146.75 280.70 L148.19 280.44 L149.63 280.17 L151.05 279.88 L152.46 279.58 L153.87 279.27 L155.26 278.95 L156.64 278.61 L158.01 278.27 L159.36 277.91 L160.71 277.54 L162.04 277.15 L163.35 276.76 L164.66 276.35 L165.95 275.94 L167.22 275.51 L168.48 275.07 L169.73 274.62 L170.95 274.15 L172.17 273.68 L173.36 273.20 L174.54 272.71 L175.70 272.20 L176.85 271.69 L177.98 271.17 L179.08 270.63 L180.17 270.09 L181.24 269.54 L182.30 268.98 L183.33 268.41 L184.34 267.83 L185.33 267.24 L186.30 266.64 L187.25 266.04 L188.18 265.42 L189.09 264.80 L189.98 264.17 L190.84 263.54 L191.69 262.89 L192.51 262.24 L193.31 261.58 L194.08 260.91 L194.83 260.24 L195.56 259.56 L196.27 258.88 L196.95 258.19 L197.60 257.49 L198.24 256.79 L198.85 256.08 L199.43 255.37 L199.99 254.65 L200.53 253.92 L201.03 253.20 L201.52 252.46 L201.98 251.73 L202.41 250.99 L202.82 250.24 L203.20 249.50 L203.56 248.75 L203.89 247.99 L204.19 247.24 L204.47 246.48 L204.72 245.72 L204.95 244.95 L205.15 244.19 L205.32 243.42 L205.47 242.65 L205.59 241.88 L205.68 241.11 L205.75 240.34 L205.79 239.57 L205.80 238.80 L205.80 265.60 L205.79 266.37 L205.75 267.14 L205.68 267.91 L205.59 268.68 L205.47 269.45 L205.32 270.22 L205.15 270.99 L204.95 271.75 L204.72 272.52 L204.47 273.28 L204.19 274.04 L203.89 274.79 L203.56 275.55 L203.20 276.30 L202.82 277.04 L202.41 277.79 L201.98 278.53 L201.52 279.26 L201.03 280.00 L200.53 280.72 L199.99 281.45 L199.43 282.17 L198.85 282.88 L198.24 283.59 L197.60 284.29 L196.95 284.99 L196.27 285.68 L195.56 286.36 L194.83 287.04 L194.08 287.71 L193.31 288.38 L192.51 289.04 L191.69 289.69 L190.84 290.34 L189.98 290.97 L189.09 291.60 L188.18 292.22 L187.25 292.84 L186.30 293.44 L185.33 294.04 L184.34 294.63 L183.33 295.21 L182.30 295.78 L181.24 296.34 L180.17 296.89 L179.08 297.43 L177.98 297.97 L176.85 298.49 L175.70 299.00 L174.54 299.51 L173.36 300.00 L172.17 300.48 L170.95 300.95 L169.73 301.42 L168.48 301.87 L167.22 302.31 L165.95 302.74 L164.66 303.15 L163.35 303.56 L162.04 303.95 L160.71 304.34 L159.36 304.71 L158.01 305.07 L156.64 305.41 L155.26 305.75 L153.87 306.07 L152.46 306.38 L151.05 306.68 L149.63 306.97 L148.19 307.24 L146.75 307.50 L145.30 307.75 L143.84 307.99 L142.37 308.21 L140.90 308.42 L139.42 308.62 L137.93 308.80 L136.43 308.98 L134.93 309.13 L133.43 309.28 L131.92 309.41 L130.40 309.53 L128.88 309.64 L127.36 309.73 L125.84 309.81 L124.31 309.87 L122.78 309.92 L121.25 309.96 L119.72 309.99 L118.18 310.00 L116.65 310.00 L115.12 309.98 L113.59 309.95 L112.06 309.91 L110.53 309.86 L109.00 309.79 L107.48 309.71 L105.96 309.61 L104.44 309.50 L102.92 309.38 L101.42 309.25 L99.91 309.10 L98.41 308.94 L96.92 308.76 L95.43 308.57 L93.95 308.37 L92.48 308.16 L91.01 307.93 L89.56 307.70 L88.11 307.44 L86.67 307.18 L85.24 306.90 L83.81 306.61 L82.40 306.31 L81.00 306.00 L79.61 305.67 L78.24 305.33 L76.87 304.98 L75.52 304.62 L74.18 304.25 L72.85 303.86 L71.54 303.46 L70.23 303.05 L68.95 302.63 L67.68 302.20 L66.42 301.76 L65.18 301.31 L63.96 300.84 L62.75 300.37 L61.56 299.88 L60.38 299.39 L59.22 298.88 L58.08 298.37 L56.96 297.84 L55.86 297.31 L54.77 296.76 L53.70 296.21 L52.66 295.64 L51.63 295.07 L50.62 294.49 L49.64 293.90 L48.67 293.30 L47.72 292.69 L46.80 292.08 L45.90 291.45 L45.01 290.82 L44.15 290.18 L43.32 289.54 L42.50 288.88 L41.71 288.22 L40.94 287.56 L40.19 286.88 L39.47 286.20 L38.77 285.52 L38.09 284.82 L37.44 284.12 L36.82 283.42 L36.21 282.71 L35.63 282.00 L35.08 281.28 L34.55 280.55 L34.05 279.82 L33.57 279.09 L33.12 278.35Z" fill="#62D9AC" stroke="#62D9AC" stroke-width="0.3"/>
<path d="M33.12 251.55v26.8 M33.12 251.55v26.8 M34.86 254.18v26.8 M36.93 256.75v26.8 M39.31 259.25v26.8 M42.00 261.67v26.8 M44.99 264.00v26.8 M48.25 266.23v26.8 M51.79 268.36v26.8 M55.58 270.37v26.8 M59.62 272.26v26.8 M63.88 274.01v26.8 M68.35 275.63v26.8 M73.01 277.11v26.8 M77.85 278.44v26.8 M82.84 279.61v26.8 M87.97 280.62v26.8 M93.21 281.47v26.8 M98.55 282.15v26.8 M103.96 282.67v26.8 M109.43 283.01v26.8 M114.93 283.18v26.8 M120.43 283.18v26.8 M125.93 283.00v26.8 M131.40 282.65v26.8 M136.81 282.13v26.8 M142.14 281.45v26.8 M147.38 280.59v26.8 M152.51 279.58v26.8 M157.49 278.40v26.8 M162.33 277.07v26.8 M166.98 275.59v26.8 M171.45 273.96v26.8 M175.70 272.20v26.8 M179.73 270.31v26.8 M183.52 268.30v26.8 M187.05 266.17v26.8 M190.31 263.94v26.8 M193.28 261.60v26.8 M195.96 259.18v26.8 M198.33 256.68v26.8 M200.39 254.11v26.8 M202.13 251.48v26.8 M203.54 248.79v26.8 M204.61 246.07v26.8 M205.34 243.33v26.8 M205.73 240.56v26.8 M29.40 238.8v26.8 M205.80 238.8v26.8" fill="none" stroke="#000" stroke-width="0.7"/>
<path d="M29.51 241.01v26.8 M29.93 243.68v26.8 M30.68 246.34v26.8 M31.74 248.96v26.8" fill="none" stroke="#000" stroke-width="0.7" stroke-opacity="0.18"/>
<path d="M29.40 265.6 A88.2 44.4 0 0 0 205.80 265.6" fill="none" stroke="#000" stroke-width="0.7"/>
<path d="M117.6 238.8L63.91 203.58A88.2 44.4 0 0 0 33.12 251.55Z" fill="#58ACF5" stroke="#000" stroke-width="0.62" stroke-linejoin="round"/>
<path d="M117.6 238.8L33.12 251.55A88.2 44.4 0 0 0 205.48 235.02Z" fill="#62D9AC" stroke="#000" stroke-width="0.62" stroke-linejoin="round"/>
<path d="M117.6 238.8L205.48 235.02A88.2 44.4 0 0 0 63.91 203.58Z" fill="#FFDC4B" stroke="#000" stroke-width="0.62" stroke-linejoin="round"/>
<text x="30.3" y="204.4" font-size="13" text-anchor="start" fill="#000" font-family="Liberation Serif, Times New Roman, serif" textLength="22" lengthAdjust="spacingAndGlyphs" >19%</text>
<text x="150.6" y="194.2" font-size="13" text-anchor="start" fill="#000" font-family="Liberation Serif, Times New Roman, serif" textLength="22.8" lengthAdjust="spacingAndGlyphs" >34%</text>
<text x="127" y="322.7" font-size="13" text-anchor="start" fill="#000" font-family="Liberation Serif, Times New Roman, serif" textLength="22.8" lengthAdjust="spacingAndGlyphs" >47%</text>
<path d="M266.90 238.80 L266.91 239.56 L266.95 240.32 L267.02 241.08 L267.11 241.84 L267.22 242.59 L267.36 243.35 L267.53 244.10 L267.72 244.86 L267.94 245.61 L268.18 246.36 L268.45 247.10 L268.74 247.85 L269.06 248.59 L269.41 249.33 L269.77 250.07 L270.17 250.80 L270.59 251.53 L271.03 252.25 L271.50 252.98 L271.99 253.69 L272.50 254.41 L273.04 255.12 L273.61 255.82 L274.19 256.52 L274.81 257.21 L275.44 257.90 L276.10 258.58 L276.78 259.26 L277.48 259.93 L278.21 260.60 L278.96 261.25 L279.73 261.91 L280.52 262.55 L281.33 263.19 L282.17 263.82 L283.03 264.44 L283.90 265.06 L284.80 265.67 L285.72 266.27 L285.72 293.07 L284.80 292.47 L283.90 291.86 L283.03 291.24 L282.17 290.62 L281.33 289.99 L280.52 289.35 L279.73 288.71 L278.96 288.05 L278.21 287.40 L277.48 286.73 L276.78 286.06 L276.10 285.38 L275.44 284.70 L274.81 284.01 L274.19 283.32 L273.61 282.62 L273.04 281.92 L272.50 281.21 L271.99 280.49 L271.50 279.78 L271.03 279.05 L270.59 278.33 L270.17 277.60 L269.77 276.87 L269.41 276.13 L269.06 275.39 L268.74 274.65 L268.45 273.90 L268.18 273.16 L267.94 272.41 L267.72 271.66 L267.53 270.90 L267.36 270.15 L267.22 269.39 L267.11 268.64 L267.02 267.88 L266.95 267.12 L266.91 266.36 L266.90 265.60Z" fill="#58ACF5" stroke="#58ACF5" stroke-width="0.3"/>
<path d="M285.72 266.27 L286.68 266.87 L287.66 267.47 L288.65 268.05 L289.67 268.63 L290.71 269.20 L291.77 269.76 L292.84 270.31 L293.94 270.85 L295.05 271.38 L296.18 271.90 L297.33 272.41 L298.50 272.91 L299.68 273.40 L300.88 273.88 L302.10 274.35 L303.33 274.81 L304.58 275.26 L305.85 275.69 L307.13 276.12 L308.42 276.53 L309.73 276.93 L311.05 277.32 L312.38 277.70 L313.73 278.07 L315.09 278.42 L316.46 278.77 L317.84 279.10 L319.24 279.42 L320.64 279.72 L322.06 280.02 L323.48 280.30 L324.92 280.57 L326.36 280.82 L327.81 281.07 L329.27 281.30 L330.74 281.51 L332.22 281.72 L333.70 281.91 L335.19 282.09 L336.68 282.26 L338.18 282.41 L339.69 282.55 L341.20 282.67 L342.71 282.78 L344.23 282.88 L345.75 282.97 L347.27 283.04 L348.80 283.10 L350.33 283.14 L351.85 283.18 L353.38 283.20 L354.91 283.20 L356.44 283.19 L357.97 283.17 L359.50 283.13 L361.03 283.08 L362.55 283.02 L364.08 282.95 L365.60 282.86 L367.11 282.75 L368.62 282.64 L370.13 282.51 L371.64 282.37 L373.14 282.21 L374.63 282.04 L376.12 281.86 L377.60 281.66 L379.07 281.46 L380.54 281.23 L381.99 281.00 L383.44 280.75 L384.89 280.49 L386.32 280.22 L387.74 279.94 L389.15 279.64 L390.55 279.33 L391.95 279.01 L393.33 278.67 L394.69 278.33 L396.05 277.97 L397.39 277.60 L398.72 277.22 L400.04 276.82 L401.34 276.42 L402.63 276.00 L403.91 275.57 L405.17 275.13 L406.41 274.68 L407.64 274.22 L408.85 273.75 L410.05 273.27 L411.23 272.77 L412.39 272.27 L413.53 271.76 L414.66 271.23 L415.77 270.70 L416.86 270.16 L417.93 269.60 L418.98 269.04 L420.01 268.47 L421.03 267.89 L422.02 267.30 L422.99 266.71 L423.94 266.10 L424.87 265.49 L425.78 264.86 L426.67 264.23 L427.53 263.59 L428.38 262.95 L429.20 262.30 L430.00 261.64 L430.77 260.97 L431.52 260.30 L432.25 259.61 L432.96 258.93 L433.64 258.24 L434.30 257.54 L434.93 256.83 L435.54 256.12 L436.13 255.41 L436.69 254.69 L437.22 253.96 L437.73 253.23 L438.22 252.50 L438.68 251.76 L439.11 251.02 L439.52 250.27 L439.90 249.53 L440.26 248.77 L440.59 248.02 L440.89 247.26 L441.17 246.50 L441.42 245.74 L441.65 244.97 L441.85 244.20 L442.02 243.43 L442.17 242.66 L442.29 241.89 L442.38 241.12 L442.45 240.35 L442.49 239.57 L442.50 238.80 L442.50 265.60 L442.49 266.37 L442.45 267.15 L442.38 267.92 L442.29 268.69 L442.17 269.46 L442.02 270.23 L441.85 271.00 L441.65 271.77 L441.42 272.54 L441.17 273.30 L440.89 274.06 L440.59 274.82 L440.26 275.57 L439.90 276.33 L439.52 277.07 L439.11 277.82 L438.68 278.56 L438.22 279.30 L437.73 280.03 L437.22 280.76 L436.69 281.49 L436.13 282.21 L435.54 282.92 L434.93 283.63 L434.30 284.34 L433.64 285.04 L432.96 285.73 L432.25 286.41 L431.52 287.10 L430.77 287.77 L430.00 288.44 L429.20 289.10 L428.38 289.75 L427.53 290.39 L426.67 291.03 L425.78 291.66 L424.87 292.29 L423.94 292.90 L422.99 293.51 L422.02 294.10 L421.03 294.69 L420.01 295.27 L418.98 295.84 L417.93 296.40 L416.86 296.96 L415.77 297.50 L414.66 298.03 L413.53 298.56 L412.39 299.07 L411.23 299.57 L410.05 300.07 L408.85 300.55 L407.64 301.02 L406.41 301.48 L405.17 301.93 L403.91 302.37 L402.63 302.80 L401.34 303.22 L400.04 303.62 L398.72 304.02 L397.39 304.40 L396.05 304.77 L394.69 305.13 L393.33 305.47 L391.95 305.81 L390.55 306.13 L389.15 306.44 L387.74 306.74 L386.32 307.02 L384.89 307.29 L383.44 307.55 L381.99 307.80 L380.54 308.03 L379.07 308.26 L377.60 308.46 L376.12 308.66 L374.63 308.84 L373.14 309.01 L371.64 309.17 L370.13 309.31 L368.62 309.44 L367.11 309.55 L365.60 309.66 L364.08 309.75 L362.55 309.82 L361.03 309.88 L359.50 309.93 L357.97 309.97 L356.44 309.99 L354.91 310.00 L353.38 310.00 L351.85 309.98 L350.33 309.94 L348.80 309.90 L347.27 309.84 L345.75 309.77 L344.23 309.68 L342.71 309.58 L341.20 309.47 L339.69 309.35 L338.18 309.21 L336.68 309.06 L335.19 308.89 L333.70 308.71 L332.22 308.52 L330.74 308.31 L329.27 308.10 L327.81 307.87 L326.36 307.62 L324.92 307.37 L323.48 307.10 L322.06 306.82 L320.64 306.52 L319.24 306.22 L317.84 305.90 L316.46 305.57 L315.09 305.22 L313.73 304.87 L312.38 304.50 L311.05 304.12 L309.73 303.73 L308.42 303.33 L307.13 302.92 L305.85 302.49 L304.58 302.06 L303.33 301.61 L302.10 301.15 L300.88 300.68 L299.68 300.20 L298.50 299.71 L297.33 299.21 L296.18 298.70 L295.05 298.18 L293.94 297.65 L292.84 297.11 L291.77 296.56 L290.71 296.00 L289.67 295.43 L288.65 294.85 L287.66 294.27 L286.68 293.67 L285.72 293.07Z" fill="#62D9AC" stroke="#62D9AC" stroke-width="0.3"/>
<path d="M267.05 241.38v26.8 M267.52 244.07v26.8 M268.32 246.74v26.8 M269.43 249.39v26.8 M270.86 251.99v26.8 M272.61 254.55v26.8 M274.66 257.05v26.8 M277.00 259.47v26.8 M279.63 261.83v26.8 M282.54 264.10v26.8 M285.72 266.27v26.8 M285.72 266.27v26.8 M287.18 267.18v26.8 M290.83 269.27v26.8 M294.74 271.24v26.8 M298.89 273.07v26.8 M303.25 274.78v26.8 M307.82 276.34v26.8 M312.58 277.76v26.8 M317.50 279.02v26.8 M322.56 280.12v26.8 M327.76 281.06v26.8 M333.06 281.83v26.8 M338.44 282.43v26.8 M343.89 282.86v26.8 M349.39 283.12v26.8 M354.90 283.20v26.8 M360.41 283.11v26.8 M365.90 282.84v26.8 M371.35 282.39v26.8 M376.73 281.78v26.8 M382.02 281.00v26.8 M387.21 280.04v26.8 M392.26 278.93v26.8 M397.17 277.66v26.8 M401.91 276.23v26.8 M406.47 274.66v26.8 M410.82 272.95v26.8 M414.95 271.10v26.8 M418.84 269.12v26.8 M422.48 267.02v26.8 M425.85 264.82v26.8 M428.94 262.51v26.8 M431.74 260.10v26.8 M434.23 257.61v26.8 M436.41 255.05v26.8 M438.26 252.42v26.8 M439.79 249.74v26.8 M440.98 247.02v26.8 M441.83 244.26v26.8 M442.34 241.49v26.8 M266.90 238.8v26.8 M442.50 238.8v26.8" fill="none" stroke="#000" stroke-width="0.7"/>
<path d="M266.90 265.6 A87.8 44.4 0 0 0 442.50 265.6" fill="none" stroke="#000" stroke-width="0.7"/>
<path d="M354.7 238.8L301.25 203.58A87.8 44.4 0 0 0 285.72 266.27Z" fill="#58ACF5" stroke="#000" stroke-width="0.62" stroke-linejoin="round"/>
<path d="M354.7 238.8L285.72 266.27A87.8 44.4 0 1 0 423.41 211.16Z" fill="#62D9AC" stroke="#000" stroke-width="0.62" stroke-linejoin="round"/>
<path d="M354.7 238.8L423.41 211.16A87.8 44.4 0 0 0 301.25 203.58Z" fill="#FFDC4B" stroke="#000" stroke-width="0.62" stroke-linejoin="round"/>
<text x="265.8" y="208.3" font-size="13" text-anchor="start" fill="#000" font-family="Liberation Serif, Times New Roman, serif" textLength="22.5" lengthAdjust="spacingAndGlyphs" >25%</text>
<text x="380.8" y="194.8" font-size="13" text-anchor="start" fill="#000" font-family="Liberation Serif, Times New Roman, serif" textLength="22.9" lengthAdjust="spacingAndGlyphs" >25%</text>
<text x="410.4" y="313.9" font-size="13" text-anchor="start" fill="#000" font-family="Liberation Serif, Times New Roman, serif" textLength="22.9" lengthAdjust="spacingAndGlyphs" >50%</text>
<path d="M504.30 238.80 L504.31 239.56 L504.35 240.33 L504.42 241.09 L504.51 241.86 L504.63 242.62 L504.77 243.38 L504.94 244.14 L505.14 244.90 L505.36 245.66 L505.61 246.41 L505.88 247.16 L506.18 247.91 L506.50 248.66 L506.85 249.40 L507.23 250.14 L507.63 250.88 L508.05 251.62 L508.50 252.35 L508.98 253.07 L509.48 253.79 L510.01 254.51 L510.56 255.22 L511.13 255.93 L511.73 256.64 L512.35 257.33 L513.00 258.03 L513.67 258.71 L514.36 259.39 L515.08 260.07 L515.81 260.73 L516.58 261.40 L517.36 262.05 L518.17 262.70 L519.00 263.34 L519.85 263.97 L520.72 264.60 L521.61 265.22 L522.53 265.83 L522.53 292.63 L521.61 292.02 L520.72 291.40 L519.85 290.77 L519.00 290.14 L518.17 289.50 L517.36 288.85 L516.58 288.20 L515.81 287.53 L515.08 286.87 L514.36 286.19 L513.67 285.51 L513.00 284.83 L512.35 284.13 L511.73 283.44 L511.13 282.73 L510.56 282.02 L510.01 281.31 L509.48 280.59 L508.98 279.87 L508.50 279.15 L508.05 278.42 L507.63 277.68 L507.23 276.94 L506.85 276.20 L506.50 275.46 L506.18 274.71 L505.88 273.96 L505.61 273.21 L505.36 272.46 L505.14 271.70 L504.94 270.94 L504.77 270.18 L504.63 269.42 L504.51 268.66 L504.42 267.89 L504.35 267.13 L504.31 266.36 L504.30 265.60Z" fill="#58ACF5" stroke="#58ACF5" stroke-width="0.3"/>
<path d="M522.53 265.83 L523.47 266.44 L524.44 267.04 L525.42 267.63 L526.43 268.21 L527.45 268.79 L528.50 269.35 L529.56 269.91 L530.65 270.45 L531.75 270.99 L532.87 271.52 L534.01 272.03 L535.17 272.54 L536.34 273.04 L537.54 273.52 L538.74 274.00 L539.97 274.47 L541.21 274.92 L542.46 275.36 L543.73 275.80 L545.02 276.22 L546.32 276.63 L547.63 277.03 L548.96 277.41 L550.30 277.79 L551.65 278.15 L553.02 278.50 L554.40 278.84 L555.79 279.17 L557.19 279.49 L558.60 279.79 L560.02 280.08 L561.45 280.36 L562.89 280.62 L564.34 280.88 L565.80 281.12 L567.26 281.34 L568.74 281.56 L570.22 281.76 L571.71 281.95 L573.20 282.12 L574.70 282.29 L576.20 282.44 L577.71 282.57 L579.23 282.69 L580.75 282.80 L582.27 282.90 L583.79 282.98 L585.32 283.05 L586.85 283.11 L588.38 283.15 L589.92 283.18 L591.45 283.20 L592.98 283.20 L594.52 283.19 L596.05 283.16 L597.58 283.13 L599.11 283.07 L600.64 283.01 L602.17 282.93 L603.69 282.84 L605.21 282.74 L606.73 282.62 L608.24 282.49 L609.75 282.34 L611.25 282.19 L612.74 282.01 L614.23 281.83 L615.72 281.63 L617.19 281.42 L618.66 281.20 L620.12 280.97 L621.58 280.72 L623.02 280.46 L624.45 280.18 L625.88 279.90 L627.29 279.60 L628.70 279.29 L630.09 278.97 L631.47 278.63 L632.84 278.28 L634.20 277.92 L635.55 277.55 L636.88 277.17 L638.20 276.78 L639.50 276.37 L640.79 275.95 L642.07 275.52 L643.33 275.08 L644.58 274.63 L645.81 274.17 L647.02 273.70 L648.22 273.22 L649.40 272.73 L650.56 272.22 L651.71 271.71 L652.84 271.19 L653.95 270.65 L655.04 270.11 L656.11 269.56 L657.16 269.00 L658.20 268.42 L659.21 267.85 L660.20 267.26 L661.18 266.66 L662.13 266.05 L663.06 265.44 L663.97 264.82 L664.86 264.19 L665.72 263.55 L666.57 262.91 L667.39 262.25 L668.19 261.60 L668.96 260.93 L669.72 260.26 L670.45 259.58 L671.15 258.89 L671.83 258.20 L672.49 257.50 L673.13 256.80 L673.74 256.09 L674.32 255.38 L674.88 254.66 L675.42 253.93 L675.93 253.21 L676.41 252.47 L676.87 251.74 L677.31 251.00 L677.72 250.25 L678.10 249.50 L678.46 248.75 L678.79 248.00 L679.09 247.24 L679.37 246.48 L679.62 245.72 L679.85 244.96 L680.05 244.19 L680.22 243.42 L680.37 242.66 L680.49 241.89 L680.58 241.12 L680.65 240.34 L680.69 239.57 L680.70 238.80 L680.70 265.60 L680.69 266.37 L680.65 267.14 L680.58 267.92 L680.49 268.69 L680.37 269.46 L680.22 270.22 L680.05 270.99 L679.85 271.76 L679.62 272.52 L679.37 273.28 L679.09 274.04 L678.79 274.80 L678.46 275.55 L678.10 276.30 L677.72 277.05 L677.31 277.80 L676.87 278.54 L676.41 279.27 L675.93 280.01 L675.42 280.73 L674.88 281.46 L674.32 282.18 L673.74 282.89 L673.13 283.60 L672.49 284.30 L671.83 285.00 L671.15 285.69 L670.45 286.38 L669.72 287.06 L668.96 287.73 L668.19 288.40 L667.39 289.05 L666.57 289.71 L665.72 290.35 L664.86 290.99 L663.97 291.62 L663.06 292.24 L662.13 292.85 L661.18 293.46 L660.20 294.06 L659.21 294.65 L658.20 295.22 L657.16 295.80 L656.11 296.36 L655.04 296.91 L653.95 297.45 L652.84 297.99 L651.71 298.51 L650.56 299.02 L649.40 299.53 L648.22 300.02 L647.02 300.50 L645.81 300.97 L644.58 301.43 L643.33 301.88 L642.07 302.32 L640.79 302.75 L639.50 303.17 L638.20 303.58 L636.88 303.97 L635.55 304.35 L634.20 304.72 L632.84 305.08 L631.47 305.43 L630.09 305.77 L628.70 306.09 L627.29 306.40 L625.88 306.70 L624.45 306.98 L623.02 307.26 L621.58 307.52 L620.12 307.77 L618.66 308.00 L617.19 308.22 L615.72 308.43 L614.23 308.63 L612.74 308.81 L611.25 308.99 L609.75 309.14 L608.24 309.29 L606.73 309.42 L605.21 309.54 L603.69 309.64 L602.17 309.73 L600.64 309.81 L599.11 309.87 L597.58 309.93 L596.05 309.96 L594.52 309.99 L592.98 310.00 L591.45 310.00 L589.92 309.98 L588.38 309.95 L586.85 309.91 L585.32 309.85 L583.79 309.78 L582.27 309.70 L580.75 309.60 L579.23 309.49 L577.71 309.37 L576.20 309.24 L574.70 309.09 L573.20 308.92 L571.71 308.75 L570.22 308.56 L568.74 308.36 L567.26 308.14 L565.80 307.92 L564.34 307.68 L562.89 307.42 L561.45 307.16 L560.02 306.88 L558.60 306.59 L557.19 306.29 L555.79 305.97 L554.40 305.64 L553.02 305.30 L551.65 304.95 L550.30 304.59 L548.96 304.21 L547.63 303.83 L546.32 303.43 L545.02 303.02 L543.73 302.60 L542.46 302.16 L541.21 301.72 L539.97 301.27 L538.74 300.80 L537.54 300.32 L536.34 299.84 L535.17 299.34 L534.01 298.83 L532.87 298.32 L531.75 297.79 L530.65 297.25 L529.56 296.71 L528.50 296.15 L527.45 295.59 L526.43 295.01 L525.42 294.43 L524.44 293.84 L523.47 293.24 L522.53 292.63Z" fill="#62D9AC" stroke="#62D9AC" stroke-width="0.3"/>
<path d="M504.33 239.96v26.8 M504.65 242.75v26.8 M505.31 245.52v26.8 M506.32 248.26v26.8 M507.67 250.96v26.8 M509.36 253.62v26.8 M511.37 256.22v26.8 M513.70 258.75v26.8 M516.35 261.20v26.8 M519.29 263.56v26.8 M522.53 265.83v26.8 M522.53 265.83v26.8 M526.02 267.98v26.8 M529.78 270.01v26.8 M533.78 271.93v26.8 M538.01 273.71v26.8 M542.45 275.36v26.8 M547.09 276.86v26.8 M551.91 278.22v26.8 M556.88 279.42v26.8 M562.00 280.46v26.8 M567.23 281.34v26.8 M572.56 282.05v26.8 M577.98 282.59v26.8 M583.44 282.97v26.8 M588.95 283.16v26.8 M594.47 283.19v26.8 M599.98 283.04v26.8 M605.46 282.72v26.8 M610.89 282.22v26.8 M616.25 281.56v26.8 M621.51 280.73v26.8 M626.66 279.73v26.8 M631.68 278.58v26.8 M636.55 277.27v26.8 M641.24 275.81v26.8 M645.74 274.20v26.8 M650.03 272.45v26.8 M654.10 270.58v26.8 M657.93 268.58v26.8 M661.50 266.46v26.8 M664.80 264.23v26.8 M667.82 261.91v26.8 M670.54 259.49v26.8 M672.96 256.99v26.8 M675.06 254.42v26.8 M676.84 251.80v26.8 M678.29 249.12v26.8 M679.40 246.39v26.8 M680.17 243.64v26.8 M680.60 240.87v26.8 M504.30 238.8v26.8 M680.70 238.8v26.8" fill="none" stroke="#000" stroke-width="0.7"/>
<path d="M504.30 265.6 A88.2 44.4 0 0 0 680.70 265.6" fill="none" stroke="#000" stroke-width="0.7"/>
<path d="M592.5 238.8L538.81 203.58A88.2 44.4 0 0 0 522.53 265.83Z" fill="#58ACF5" stroke="#000" stroke-width="0.62" stroke-linejoin="round"/>
<path d="M592.5 238.8L522.53 265.83A88.2 44.4 0 1 0 638.89 201.04Z" fill="#62D9AC" stroke="#000" stroke-width="0.62" stroke-linejoin="round"/>
<path d="M592.5 238.8L638.89 201.04A88.2 44.4 0 0 0 538.81 203.58Z" fill="#FFDC4B" stroke="#000" stroke-width="0.62" stroke-linejoin="round"/>
<text x="506.3" y="206.7" font-size="13" text-anchor="start" fill="#000" font-family="Liberation Serif, Times New Roman, serif" textLength="23" lengthAdjust="spacingAndGlyphs" >25%</text>
<text x="612.5" y="194" font-size="13" text-anchor="start" fill="#000" font-family="Liberation Serif, Times New Roman, serif" textLength="22.5" lengthAdjust="spacingAndGlyphs" >19%</text>
<text x="660" y="304.2" font-size="13" text-anchor="start" fill="#000" font-family="Liberation Serif, Times New Roman, serif" textLength="23" lengthAdjust="spacingAndGlyphs" >56%</text>
<circle cx="64.5" cy="350.9" r="4.1" fill="#58ACF5"/>
<text x="76.4" y="356.0" font-size="15.5" text-anchor="start" fill="#000" font-family="Liberation Serif, Times New Roman, serif" textLength="281" lengthAdjust="spacingAndGlyphs" stroke="#000" stroke-width="0.12">UDT_RDDE is more uniform than UDT_BM</text>
<circle cx="388.0" cy="350.8" r="4.1" fill="#FFDC4B"/>
<text x="405.9" y="356.0" font-size="15.5" text-anchor="start" fill="#000" font-family="Liberation Serif, Times New Roman, serif" textLength="236.8" lengthAdjust="spacingAndGlyphs" stroke="#000" stroke-width="0.12">UDT_RDDE is the same as UDT_BM</text>
<circle cx="91.7" cy="375.3" r="4.1" fill="#62D9AC"/>
<text x="110.7" y="381" font-size="15.5" text-anchor="start" fill="#000" font-family="Liberation Serif, Times New Roman, serif" textLength="513.3" lengthAdjust="spacingAndGlyphs" stroke="#000" stroke-width="0.12">UDT_RDDE have the same uniformity as UDT_BM but have different distribution</text>
</svg>
</body></html>
